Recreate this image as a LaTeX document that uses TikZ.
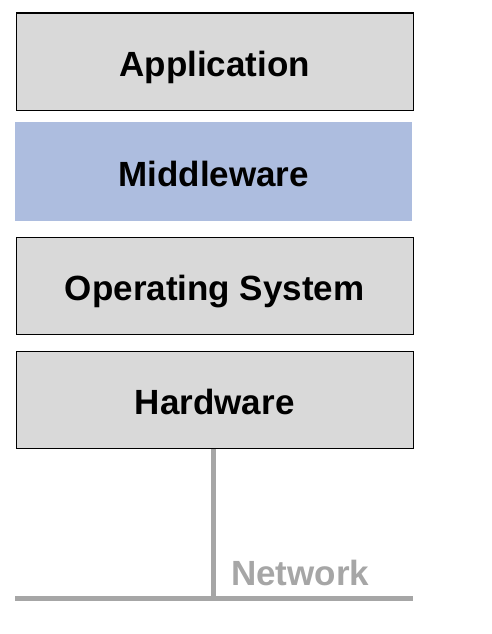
\documentclass[tikz,border=0pt]{standalone}
\usepackage{fontspec}
\setmainfont{Liberation Sans}
\begin{document}
\begin{tikzpicture}[x=1pt,y=-1pt,
  layertext/.style={inner sep=0pt,text height=29pt,text depth=0pt,font=\fontsize{35}{40}\selectfont\bfseries,anchor=north west},
  layer/.style={layertext,draw=black,line width=1.5pt,fill=boxgray,minimum width=397pt,minimum height=97pt},
  mwlayer/.style={layertext,fill=mwblue,minimum width=397pt,minimum height=99pt},
  net/.style={draw=netgray,line width=5pt}]
\definecolor{boxgray}{HTML}{D9D9D9}
\definecolor{mwblue}{HTML}{ADBDDF}
\definecolor{netgray}{HTML}{A6A6A6}
\useasboundingbox (0,0) rectangle (492,634);
\node[layer] (app) at (15.5,12.5) {Application};
\node[mwlayer] (mw) at (15,122) {Middleware};
\node[layer] (os) at (15.5,236.5) {Operating System};
\node[layer] (hw) at (15.5,350.5) {Hardware};
\coordinate (nl) at (15,598.5);
\coordinate (nr) at (413,598.5);
\coordinate (tap) at (213.5,598.5);
\draw[net] (nl) -- (nr);
\draw[net] (hw.south -| tap) -- (tap);
\node[anchor=base west,inner sep=0pt,text=netgray,font=\fontsize{35}{40}\selectfont\bfseries] (netlabel) at (231,585) {Network};
\end{tikzpicture}
\end{document}
